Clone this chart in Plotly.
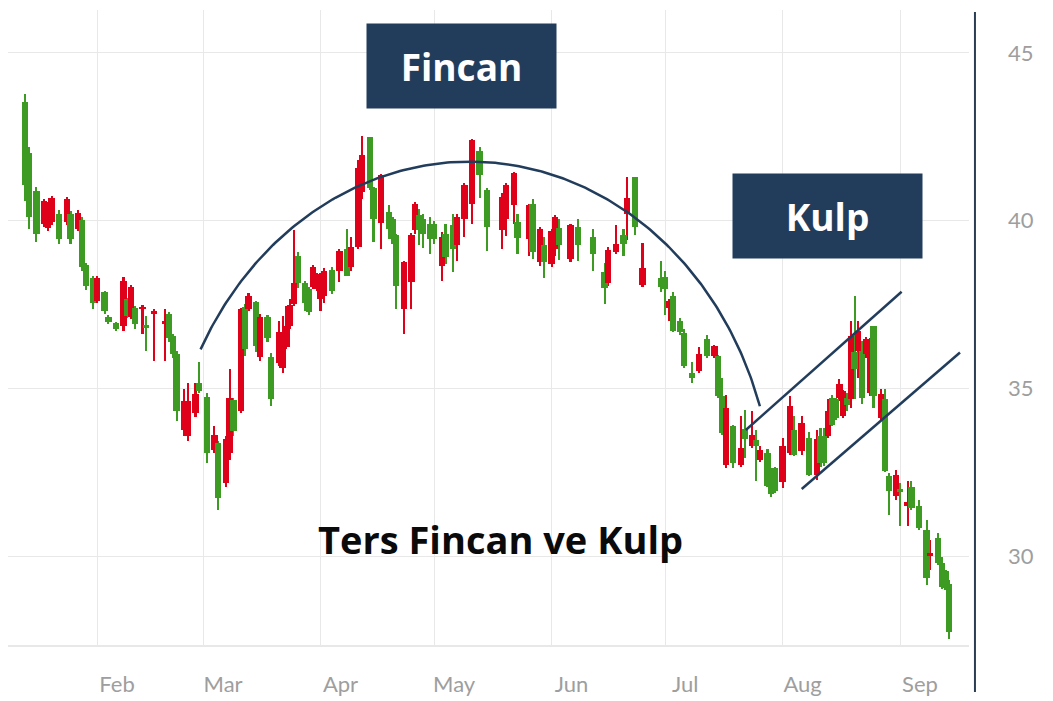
"""
Ters Fincan ve Kulp (inverse cup & handle) candlestick sketch.
Candles are drawn as two overlaid bar traces: thin wicks, then bodies.
"""

import numpy as np
import pandas as pd
import plotly.graph_objects as go

# ── daily candles ────────────────────────────────────────────────────────────
dates = [
    "2019-01-13", "2019-01-14", "2019-01-16", "2019-01-18", "2019-01-19", "2019-01-20",
    "2019-01-22", "2019-01-24", "2019-01-25", "2019-01-27", "2019-01-28", "2019-01-29",
    "2019-01-31", "2019-02-01", "2019-02-03", "2019-02-04", "2019-02-06", "2019-02-08",
    "2019-02-09", "2019-02-10", "2019-02-11", "2019-02-13", "2019-02-14", "2019-02-16",
    "2019-02-19", "2019-02-20", "2019-02-21", "2019-02-22", "2019-02-24", "2019-02-25",
    "2019-02-27", "2019-02-28", "2019-03-02", "2019-03-04", "2019-03-05", "2019-03-07",
    "2019-03-08", "2019-03-09", "2019-03-11", "2019-03-12", "2019-03-13", "2019-03-15",
    "2019-03-16", "2019-03-18", "2019-03-19", "2019-03-21", "2019-03-22", "2019-03-23",
    "2019-03-24", "2019-03-25", "2019-03-26", "2019-03-28", "2019-03-29", "2019-03-30",
    "2019-03-31", "2019-04-01", "2019-04-02", "2019-04-04", "2019-04-06", "2019-04-08",
    "2019-04-09", "2019-04-11", "2019-04-12", "2019-04-14", "2019-04-15", "2019-04-17",
    "2019-04-19", "2019-04-20", "2019-04-21", "2019-04-23", "2019-04-25", "2019-04-26",
    "2019-04-27", "2019-04-28", "2019-04-30", "2019-05-01", "2019-05-03", "2019-05-04",
    "2019-05-06", "2019-05-07", "2019-05-09", "2019-05-11", "2019-05-13", "2019-05-15",
    "2019-05-19", "2019-05-20", "2019-05-22", "2019-05-23", "2019-05-26", "2019-05-27",
    "2019-05-29", "2019-05-30", "2019-06-01", "2019-06-02", "2019-06-03", "2019-06-06",
    "2019-06-08", "2019-06-12", "2019-06-15", "2019-06-16", "2019-06-18", "2019-06-20",
    "2019-06-21", "2019-06-23", "2019-06-25", "2019-06-30", "2019-07-01", "2019-07-02",
    "2019-07-03", "2019-07-05", "2019-07-06", "2019-07-08", "2019-07-10", "2019-07-12",
    "2019-07-14", "2019-07-15", "2019-07-16", "2019-07-17", "2019-07-19", "2019-07-21",
    "2019-07-22", "2019-07-24", "2019-07-25", "2019-07-26", "2019-07-28", "2019-07-29",
    "2019-07-30", "2019-08-01", "2019-08-03", "2019-08-04", "2019-08-06", "2019-08-08",
    "2019-08-10", "2019-08-11", "2019-08-12", "2019-08-13", "2019-08-14", "2019-08-15",
    "2019-08-16", "2019-08-17", "2019-08-18", "2019-08-19", "2019-08-20", "2019-08-21",
    "2019-08-22", "2019-08-23", "2019-08-24", "2019-08-25", "2019-08-27", "2019-08-28",
    "2019-08-29", "2019-08-31", "2019-09-01", "2019-09-03", "2019-09-04", "2019-09-06",
    "2019-09-08", "2019-09-09", "2019-09-11", "2019-09-12", "2019-09-13", "2019-09-14",
]
opens = [
    41.05, 40.11, 39.61, 40.58, 40.48, 40.68, 39.46, 40.66, 39.46, 40.24, 38.61, 38.06,
    37.54, 38.28, 37.31, 36.98, 36.78, 38.21, 37.16, 38.01, 36.91, 37.42, 36.80, 37.30,
    37.00, 36.51, 36.02, 34.32, 34.62, 34.62, 34.82, 34.92, 33.07, 33.62, 31.72, 33.49,
    34.72, 33.72, 37.36, 36.17, 37.76, 36.27, 37.12, 36.49, 34.67, 36.67, 36.67, 36.85,
    37.48, 38.14, 38.14, 37.56, 37.29, 38.61, 38.41, 38.36, 38.51, 37.91, 39.11, 38.36,
    39.21, 41.56, 41.96, 40.96, 40.06, 41.36, 39.76, 39.46, 38.06, 38.76, 39.56, 40.51,
    39.71, 39.61, 39.46, 39.46, 39.51, 38.91, 39.16, 40.11, 41.06, 42.41, 41.36, 39.81,
    40.71, 41.06, 41.41, 39.48, 40.46, 39.06, 39.74, 38.76, 39.68, 40.11, 39.28, 39.86,
    39.28, 39.01, 37.98, 39.14, 39.31, 39.31, 40.68, 39.81, 38.58, 38.01, 37.96, 37.60,
    36.72, 36.67, 35.67, 35.32, 36.02, 35.97, 36.27, 34.77, 33.67, 34.42, 32.77, 33.22,
    33.50, 33.62, 33.27, 33.17, 32.08, 31.86, 31.93, 33.27, 34.47, 33.02, 33.97, 32.43,
    33.49, 32.77, 32.77, 34.32, 33.92, 34.12, 35.12, 34.92, 34.50, 36.57, 35.57, 36.72,
    34.72, 36.47, 36.47, 34.77, 34.82, 32.53, 31.93, 32.43, 31.90, 31.60, 31.43, 30.83,
    29.36, 30.10, 29.78, 29.08, 29.05, 27.73,
]
highs = [
    43.77, 42.20, 41.00, 40.64, 40.56, 40.74, 40.31, 40.71, 40.28, 40.31, 40.11, 38.74,
    38.36, 38.34, 37.91, 37.18, 36.98, 38.33, 37.70, 38.08, 37.46, 37.48, 37.16, 37.36,
    37.36, 37.28, 36.62, 36.12, 34.97, 35.15, 35.15, 35.79, 34.87, 33.87, 33.42, 33.57,
    35.57, 34.72, 37.40, 37.52, 37.84, 37.62, 37.22, 37.19, 36.05, 37.02, 37.17, 37.47,
    37.66, 39.71, 39.06, 38.21, 38.01, 38.68, 38.45, 38.44, 38.58, 38.61, 39.16, 39.76,
    39.51, 41.81, 42.53, 42.49, 41.00, 41.38, 40.48, 40.10, 39.61, 38.81, 39.64, 40.56,
    40.36, 40.20, 40.11, 40.00, 39.66, 39.90, 40.21, 40.21, 41.11, 42.44, 42.21, 40.96,
    40.81, 41.11, 41.46, 40.21, 40.51, 40.64, 39.81, 39.51, 39.74, 40.16, 40.06, 39.91,
    40.06, 39.76, 38.74, 39.21, 39.88, 39.76, 41.31, 41.29, 39.34, 38.81, 38.51, 37.66,
    37.88, 37.10, 36.77, 35.79, 36.22, 36.59, 36.30, 36.00, 35.32, 34.80, 33.90, 34.17,
    34.37, 34.32, 33.77, 33.27, 33.19, 32.62, 32.66, 33.52, 34.77, 34.17, 34.17, 33.69,
    33.75, 33.82, 33.82, 34.67, 34.80, 34.72, 35.27, 34.95, 34.87, 37.02, 37.76, 37.00,
    36.42, 36.52, 36.49, 36.87, 34.97, 34.97, 32.47, 32.57, 32.17, 32.23, 32.23, 31.68,
    31.08, 30.48, 30.70, 29.98, 29.60, 29.28,
]
lows = [
    40.60, 39.76, 39.36, 39.81, 39.68, 39.86, 39.31, 39.86, 39.31, 39.68, 38.51, 37.94,
    37.38, 37.56, 37.21, 36.91, 36.71, 36.71, 37.10, 37.06, 36.78, 36.62, 36.12, 35.82,
    35.82, 36.37, 35.92, 34.02, 33.57, 33.42, 34.15, 34.87, 32.77, 33.07, 31.38, 32.05,
    32.87, 33.57, 34.27, 35.97, 37.31, 36.07, 35.82, 36.37, 34.47, 35.67, 35.47, 36.17,
    36.77, 37.46, 37.98, 37.31, 37.19, 37.96, 37.90, 37.31, 37.56, 37.81, 38.16, 38.36,
    38.51, 39.16, 40.66, 40.91, 39.36, 39.16, 39.46, 39.30, 37.36, 36.62, 37.36, 39.60,
    39.26, 39.20, 39.01, 39.30, 38.21, 38.70, 38.46, 38.81, 39.51, 39.91, 40.68, 39.11,
    39.16, 39.54, 39.91, 39.01, 38.96, 38.86, 38.66, 38.28, 38.61, 38.96, 38.84, 38.76,
    38.81, 38.51, 37.51, 38.06, 39.01, 38.96, 39.41, 39.58, 38.01, 37.86, 37.19, 37.01,
    36.67, 36.60, 35.62, 35.17, 35.47, 35.92, 35.90, 34.70, 33.62, 32.62, 32.62, 32.67,
    32.92, 33.22, 32.23, 32.82, 32.06, 31.76, 31.88, 32.03, 33.02, 32.97, 33.02, 32.38,
    32.26, 32.67, 32.70, 33.52, 33.87, 34.05, 34.62, 34.12, 34.32, 34.42, 34.67, 35.32,
    34.52, 35.90, 34.77, 34.42, 34.07, 32.50, 31.23, 31.68, 30.90, 30.90, 31.38, 30.78,
    29.13, 29.59, 29.73, 29.03, 29.00, 27.53,
]
closes = [
    43.55, 42.03, 40.88, 39.89, 39.79, 39.96, 40.21, 39.96, 40.21, 39.74, 40.01, 38.68,
    38.28, 37.61, 37.86, 37.14, 36.94, 36.86, 37.66, 37.14, 37.41, 37.36, 36.90, 37.22,
    36.92, 37.21, 36.57, 36.04, 33.77, 33.57, 34.27, 35.15, 34.75, 33.17, 33.37, 32.17,
    33.07, 34.65, 34.32, 37.42, 37.36, 37.57, 35.95, 37.12, 35.95, 35.77, 35.62, 36.22,
    36.87, 37.51, 38.96, 38.14, 37.96, 38.01, 37.96, 37.66, 37.76, 38.54, 38.51, 39.16,
    38.61, 39.21, 40.86, 42.49, 40.96, 39.94, 40.26, 40.06, 39.56, 37.36, 38.16, 39.71,
    40.16, 40.06, 39.91, 39.91, 38.66, 39.61, 39.86, 39.26, 40.06, 40.51, 42.09, 40.91,
    39.71, 40.06, 40.46, 39.96, 39.46, 40.51, 38.76, 39.26, 38.71, 39.16, 39.78, 38.86,
    39.81, 39.51, 38.48, 38.14, 39.08, 39.56, 40.21, 41.29, 38.08, 38.28, 38.31, 37.40,
    37.76, 37.02, 36.65, 35.47, 35.52, 36.47, 35.97, 35.97, 34.77, 32.72, 33.87, 32.72,
    33.80, 33.27, 33.47, 32.87, 33.07, 32.57, 32.62, 32.20, 33.07, 33.77, 33.12, 33.52,
    32.43, 33.57, 33.57, 33.57, 34.72, 34.67, 34.72, 34.17, 34.70, 34.67, 36.07, 36.12,
    36.12, 36.02, 34.87, 36.87, 34.12, 34.67, 32.38, 31.78, 32.00, 31.50, 32.07, 31.48,
    30.78, 30.00, 30.53, 29.80, 29.55, 29.18,
]

month_ticks = ["2019-02-01", "2019-03-01", "2019-04-01", "2019-05-01",
               "2019-06-01", "2019-07-01", "2019-08-01", "2019-09-01"]
month_labels = ["Feb", "Mar", "Apr", "May", "Jun", "Jul", "Aug", "Sep"]
price_ticks = [30, 35, 40, 45]

title_text = "Ters Fincan ve Kulp"
cup_label = "Fincan"
handle_label = "Kulp"

# ── styling ─────────────────────────────────────────────────────────────────
GREEN = "#3d9b23"
RED   = "#df0019"
NAVY  = "#223d5c"
GRID  = "#e8e8e8"
TICK  = "#9e9e9e"
FONT  = "Lato"
HEAD  = "Open Sans"
DAY_MS = 86_400_000

x = pd.to_datetime(dates)
o = np.array(opens)
h = np.array(highs)
l = np.array(lows)
c = np.array(closes)
colors = np.where(c >= o, GREEN, RED)

fig = go.Figure()

# wicks
fig.add_trace(go.Bar(
    x=x, base=l, y=h - l, width=0.55 * DAY_MS,
    marker=dict(color=colors, line_width=0), hoverinfo="skip",
))
# bodies
fig.add_trace(go.Bar(
    x=x, base=np.minimum(o, c), y=np.abs(c - o), width=1.65 * DAY_MS,
    marker=dict(color=colors, line_width=0),
    customdata=np.stack([o, h, l, c], axis=1),
    hovertemplate="%{x|%d %b}<br>O %{customdata[0]:.2f}  H %{customdata[1]:.2f}"
                  "<br>L %{customdata[2]:.2f}  C %{customdata[3]:.2f}<extra></extra>",
))

# ── the cup: half-ellipse drawn over the rounded top ─────────────────────────
arc_center = pd.Timestamp("2019-05-10 11:00")
arc_rx_days, arc_mid, arc_ry = 80.25, 31.33, 10.43
theta = np.radians(np.linspace(152.4, 17.5, 240))
arc_x = arc_center + pd.to_timedelta(arc_rx_days * np.cos(theta), unit="D")
arc_y = arc_mid + arc_ry * np.sin(theta)
fig.add_trace(go.Scatter(
    x=arc_x, y=arc_y, mode="lines",
    line=dict(color=NAVY, width=2.5), hoverinfo="skip",
))

# ── the handle: rising channel ──────────────────────────────────────────────
channel = [
    ("2019-07-22 07:00", 33.76, "2019-09-01 10:00", 37.88),
    ("2019-08-06 01:00", 32.00, "2019-09-16 20:00", 36.07),
]
for x0, y0, x1, y1 in channel:
    fig.add_shape(type="line", xref="x", yref="y", x0=x0, y0=y0, x1=x1, y1=y1,
                  line=dict(color=NAVY, width=2.5))

# dark rule on the right, running below the plot into the label band
fig.add_shape(type="line", xref="paper", yref="paper",
              x0=1.0062, x1=1.0062, y0=-0.074, y1=0.997,
              line=dict(color="#2b3d52", width=2))

box = dict(xref="paper", yref="paper", showarrow=False, bgcolor=NAVY,
           xanchor="center", yanchor="middle",
           width=189, height=84, borderpad=0,
           font=dict(family=HEAD, size=37, color="white"))
fig.add_annotation(x=0.4724, y=0.9113, text=f"<b>{cup_label}</b>", **box)
fig.add_annotation(x=0.8528, y=0.6756, text=f"<b>{handle_label}</b>", **box)
fig.add_annotation(x=0.512, y=0.1669, xref="paper", yref="paper", showarrow=False,
                   xanchor="center", yanchor="middle",
                   text=f"<b>{title_text}</b>",
                   font=dict(family=HEAD, size=38, color="#0a0a0a"))

# the page puts the figure 8 px in from the top-left corner
fig.update_layout(
    width=1045, height=693,
    margin=dict(l=0, r=84, t=2, b=56),
    paper_bgcolor="white", plot_bgcolor="white",
    showlegend=False, barmode="overlay", bargap=0,
    xaxis=dict(
        type="date", range=["2019-01-08 12:00", "2019-09-19 05:00"],
        tickvals=month_ticks, ticktext=month_labels,
        showgrid=True, gridcolor=GRID, gridwidth=1,
        ticks="", ticklabelshift=20, ticklabelstandoff=19,
        tickfont=dict(family=FONT, size=22, color=TICK),
        showline=True, linecolor=GRID, linewidth=2,
        zeroline=False, fixedrange=True,
    ),
    yaxis=dict(
        side="right", range=[27.35, 46.28], tickvals=price_ticks,
        showgrid=True, gridcolor=GRID, gridwidth=1,
        ticks="", ticklabelstandoff=38,
        tickfont=dict(family=FONT, size=22, color=TICK),
        zeroline=False, showline=False, fixedrange=True,
    ),
)

fig.write_html("out.html")
